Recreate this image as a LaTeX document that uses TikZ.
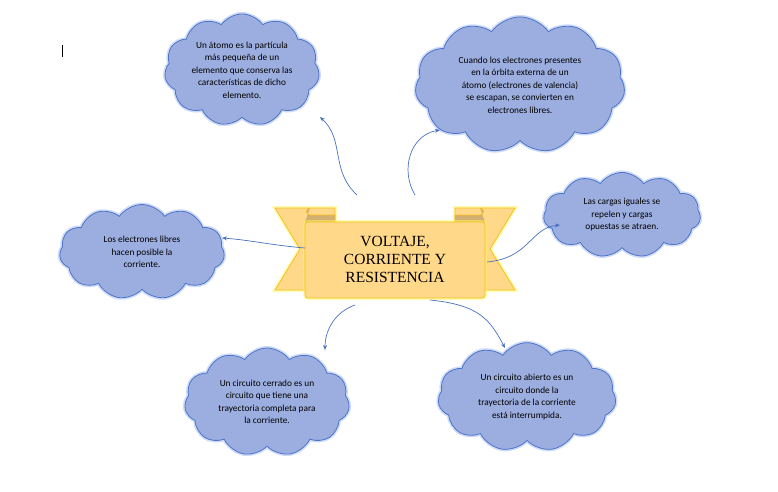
\documentclass[tikz,border=0pt]{standalone}
\usepackage{fontspec}
\setmainfont{Carlito}
\newfontfamily\titlefont{Liberation Serif}
\usetikzlibrary{shapes.symbols,arrows.meta}
\definecolor{cloudfill}{HTML}{9CAEE0}
\definecolor{cloudline}{HTML}{4E74C8}
\definecolor{glow}{HTML}{B8CCF4}
\definecolor{ban}{HTML}{FFD88A}
\definecolor{banline}{HTML}{F4C020}
\definecolor{fold}{HTML}{D4B070}
\definecolor{conn}{HTML}{4A72C0}
\begin{document}
\begin{tikzpicture}[x=1pt,y=-1pt,
  cloudbox/.style={cloud, cloud puffs=11, cloud puff arc=110, aspect=1.5, draw=cloudline, line width=0.8pt, fill=cloudfill, inner sep=0pt, align=center, font=\fontsize{9.3}{12.5}\selectfont, text=black,
    preaction={draw=glow, line width=4pt, opacity=0.7}},
  link/.style={draw=conn, line width=0.7pt, -{Stealth[length=5pt,width=4pt]}}]
\useasboundingbox (0,0) rectangle (778,491);
\draw[line width=0.8pt] (62,45) -- (62,57);
\node[cloudbox, minimum width=155, minimum height=110] (c1) at (242,70) {Un átomo es la partícula\\más pequeña de un\\elemento que conserva las\\características de dicho\\elemento.};
\node[cloudbox, minimum width=210, minimum height=130] (c2) at (520,85) {Cuando los electrones presentes\\en la órbita externa de un\\átomo (electrones de valencia)\\se escapan, se convierten en\\electrones libres.};
\node[cloudbox, minimum width=157, minimum height=78] (c3) at (622,215) {Las cargas iguales se\\repelen y cargas\\opuestas se atraen.};
\node[cloudbox, minimum width=165, minimum height=95] (c4) at (142,252) {Los electrones libres\\hacen posible la\\corriente.};
\node[cloudbox, minimum width=165, minimum height=105] (c5) at (267,402) {Un circuito cerrado es un\\circuito que tiene una\\trayectoria completa para\\la corriente.};
\node[cloudbox, minimum width=178, minimum height=105] (c6) at (527,397) {Un circuito abierto es un\\circuito donde la\\trayectoria de la corriente\\está interrumpida.};
\begin{scope}[draw=banline, line width=0.8pt]
\filldraw[fill=ban, preaction={draw=yellow!60, line width=4pt, opacity=0.5}] (275,208) -- (335,208) -- (335,290) -- (275,290) -- (300,249) -- cycle;
\filldraw[fill=ban, preaction={draw=yellow!60, line width=4pt, opacity=0.5}] (515,208) -- (455,208) -- (455,290) -- (515,290) -- (490,249) -- cycle;
\filldraw[fill=fold] (305,222) -- (335,222) -- (335,215) -- (310,215) arc (90:270:3.5) ;
\filldraw[fill=fold] (485,222) -- (455,222) -- (455,215) -- (480,215) arc (90:-90:3.5);
\filldraw[fill=ban, rounded corners=3pt, preaction={draw=yellow!60, line width=4pt, opacity=0.5}] (305,222) -- (485,222) -- (485,298) -- (305,298) -- cycle;
\end{scope}
\node[font=\titlefont\fontsize{15.5}{18}\selectfont, align=center] (t) at (395,259) {VOLTAJE,\\CORRIENTE Y\\RESISTENCIA};
\coordinate (s1) at (357,195);
\coordinate (s2) at (415,195);
\coordinate (s3) at (305,248);
\coordinate (s4) at (487,262);
\coordinate (s5) at (355,305);
\coordinate (s6) at (430,300);
\coordinate (e1) at (320,117);
\coordinate (e2) at (440,130);
\coordinate (e3) at (222,238);
\coordinate (e4) at (560,225);
\coordinate (e5) at (325,350);
\coordinate (e6) at (505,348);
\draw[link] (s1) .. controls (330,170) and (345,140) .. (e1);
\draw[link] (s2) .. controls (400,170) and (410,135) .. (e2);
\draw[link] (s3) .. controls (270,245) and (250,240) .. (e3);
\draw[link] (s4) .. controls (530,258) and (530,228) .. (e4);
\draw[link] (s5) .. controls (335,312) and (325,330) .. (e5);
\draw[link] (s6) .. controls (480,305) and (490,320) .. (e6);
\end{tikzpicture}
\end{document}
